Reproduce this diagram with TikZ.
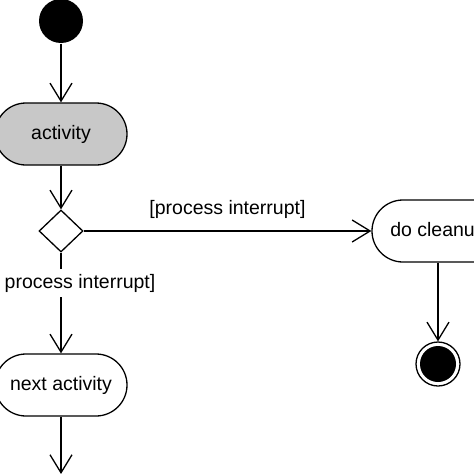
\documentclass[tikz,border=0pt]{standalone}
\usepackage{fontspec}
\setmainfont{Liberation Sans}
\usetikzlibrary{arrows.meta,shapes.geometric}
\definecolor{actgray}{RGB}{200,200,200}
\begin{document}
\begin{tikzpicture}[x=1pt,y=-1pt, line width=1.3pt,
  act/.style={draw, rounded corners=31pt, minimum width=132pt, minimum height=62pt, inner sep=0pt, font=\fontsize{19.5}{22}\selectfont},
  flow/.style={-{Straight Barb[length=18pt,width=22pt,line width=1.3pt]}},
  lbl/.style={font=\fontsize{19.5}{22}\selectfont, inner sep=2pt}]
\useasboundingbox (0,0) rectangle (474,474);
\node[circle, fill=black, minimum size=44pt, inner sep=0pt] (start) at (61,21) {};
\node[act, fill=actgray] (a) at (61,134) {activity};
\node[diamond, draw, minimum width=44pt, minimum height=42pt, inner sep=0pt] (d) at (61,231) {};
\node[act] (c) at (438,231) {do cleanup};
\node[act] (n) at (61,385) {next activity};
\node[circle, draw, minimum size=44pt, inner sep=0pt] (end) at (438,364) {};
\fill (end.center) circle (18pt);
\coordinate (out) at (61,474);
\draw[flow] (start) -- (a);
\draw[flow] (a) -- (d);
\draw[flow] (d) -- node[lbl, above, yshift=10pt] {[process interrupt]} (c);
\draw[flow] (d) -- (n);
\node[lbl, fill=white, anchor=east, inner ysep=5pt] (g) at (158,283) {process interrupt]};
\draw[flow] (c) -- (end);
\draw[flow] (n) -- (out);
\end{tikzpicture}
\end{document}
